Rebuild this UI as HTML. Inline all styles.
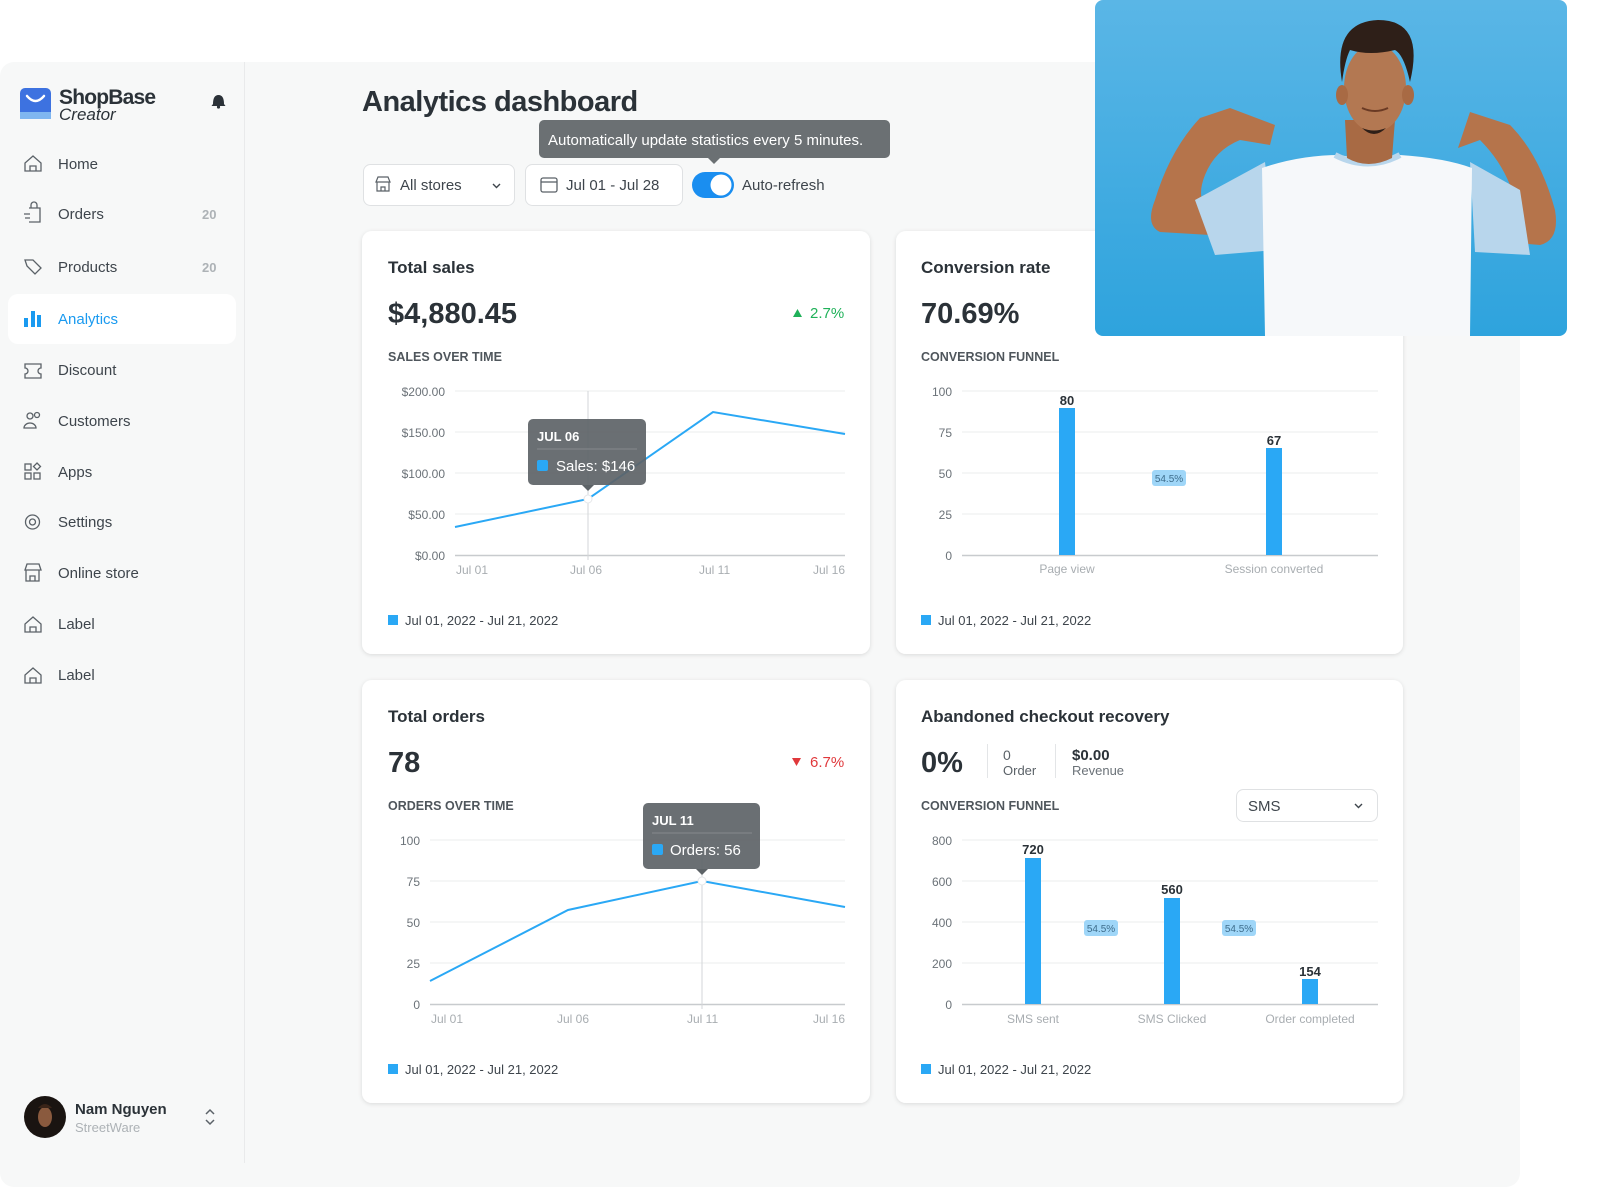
<!DOCTYPE html>
<html><head><meta charset="utf-8"><style>
html,body{margin:0;padding:0;background:#fff;width:1600px;height:1189px;overflow:hidden}
svg text{font-family:"Liberation Sans",sans-serif}
</style></head><body>
<svg width="1600" height="1189" viewBox="0 0 1600 1189" xmlns="http://www.w3.org/2000/svg">
<defs>
<filter id="sh" x="-5%" y="-5%" width="110%" height="110%"><feDropShadow dx="0" dy="1" stdDeviation="2" flood-color="#000" flood-opacity="0.12"/></filter>
<linearGradient id="bg" x1="0" y1="0" x2="0" y2="1"><stop offset="0" stop-color="#5ab6e6"/><stop offset="1" stop-color="#2ea3dd"/></linearGradient>
</defs>
<rect width="1600" height="1189" fill="#fff"/>
<rect x="0" y="62" width="1520" height="1125" rx="14" fill="#f7f8f8"/>
<line x1="244.5" y1="62" x2="244.5" y2="1163" stroke="#e9eaeb"/>
<rect x="20" y="88" width="31" height="31" rx="5" fill="#3d72e0"/>
<rect x="20" y="112" width="31" height="7" fill="#7fb6f0"/>
<path d="M27 96 Q35.5 106 44 96" stroke="#fff" stroke-width="2.5" fill="none" stroke-linecap="round"/>
<text x="59" y="104" font-size="21" font-weight="bold" fill="#2b3238" letter-spacing="-0.8">ShopBase</text>
<text x="59" y="120" font-size="17" font-style="italic" fill="#2b3238" font-family="Liberation Serif">Creator</text>
<path d="M213 104 q0-9 5.5-9 q5.5 0 5.5 9 l1.5 2 h-14 z" fill="#2b3238"/><circle cx="218.5" cy="107" r="1.6" fill="#2b3238"/>
<rect x="8" y="294" width="228" height="50" rx="10" fill="#fff"/>
<g font-size="15" fill="#3e454c">
<text x="58" y="169">Home</text><text x="58" y="219">Orders</text><text x="58" y="272">Products</text>
<text x="58" y="324" fill="#1a9af0">Analytics</text><text x="58" y="375">Discount</text><text x="58" y="426">Customers</text>
<text x="58" y="477">Apps</text><text x="58" y="527">Settings</text><text x="58" y="578">Online store</text>
<text x="58" y="629">Label</text><text x="58" y="680">Label</text>
</g>
<g font-size="13" font-weight="bold" fill="#adb2b6"><text x="202" y="219">20</text><text x="202" y="272">20</text></g>
<g stroke="#5b6268" stroke-width="1.3" fill="none">
<path d="M25 171 v-8 l8-7 l8 7 v8 z M30 171 v-5 h6 v5"/>
<path d="M29 208 h11 v14 h-11 M31 208 v-3 a3 3 0 0 1 6 0 v3 M24 214 h6 M25 218 h5"/>
<path d="M25 260 l8 0 l8 8 l-6 6 l-8-8 z"/>
<path d="M25 364 h16 v4 a3 3 0 0 0 0 6 v4 h-16 v-4 a3 3 0 0 0 0-6 z"/>
<circle cx="30" cy="416" r="3"/><path d="M24 428 a6 5 0 0 1 12 0 z"/><circle cx="37" cy="415" r="2.5"/>
<rect x="25" y="464" width="6" height="6"/><rect x="34" y="473" width="6" height="6"/><rect x="25" y="473" width="6" height="6"/><path d="M37 463 l3.5 3.5 l-3.5 3.5 l-3.5-3.5 z"/>
<circle cx="32.5" cy="522" r="3"/><circle cx="32.5" cy="522" r="7"/>
<path d="M25 570 l2-6 h12 l2 6 z M26 570 v11 h13 v-11 M30 581 v-5 h5 v5"/>
<path d="M25 632 v-8 l8-7 l8 7 v8 z M30 632 v-5 h6 v5"/>
<path d="M25 683 v-8 l8-7 l8 7 v8 z M30 683 v-5 h6 v5"/>
</g>
<g fill="#1a9af0"><rect x="24" y="318" width="4" height="9"/><rect x="31" y="311" width="4" height="16"/><rect x="37" y="315" width="4" height="12"/></g>
<circle cx="45" cy="1117" r="21" fill="#1a1411"/><ellipse cx="45" cy="1117" rx="7" ry="10" fill="#8a5a3e"/><path d="M38 1108 q7-8 14 0 z" fill="#3a2418"/>
<text x="75" y="1114" font-size="15" font-weight="bold" fill="#2b3238">Nam Nguyen</text>
<text x="75" y="1132" font-size="13" fill="#adb2b6">StreetWare</text>
<path d="M206 1114 l4-4 l4 4 M206 1120 l4 4 l4-4" stroke="#5b6268" stroke-width="1.5" fill="none"/>
<text x="362" y="111" font-size="29" font-weight="bold" fill="#2b3238" letter-spacing="-0.5">Analytics dashboard</text>
<rect x="539" y="120" width="351" height="38" rx="5" fill="#6b7073"/><path d="M708 158 l6 6 l6-6 z" fill="#6b7073"/>
<text x="548" y="145" font-size="15" fill="#fff">Automatically update statistics every 5 minutes.</text>
<rect x="363.5" y="164.5" width="151" height="41" rx="7" fill="#fff" stroke="#dfe1e3"/>
<path d="M376 182 l2-5 h10 l2 5 z M377 182 v9 h12 v-9 M381 191 v-4 h4 v4" stroke="#5b6268" stroke-width="1.2" fill="none"/>
<text x="400" y="190" font-size="15" fill="#3e454c">All stores</text>
<path d="M493 184 l3.5 3.5 l3.5-3.5" stroke="#3e454c" stroke-width="1.4" fill="none"/>
<rect x="525.5" y="164.5" width="157" height="41" rx="7" fill="#fff" stroke="#dfe1e3"/>
<rect x="541" y="178" width="16" height="14" rx="2" stroke="#5b6268" stroke-width="1.3" fill="none"/><line x1="541" y1="182" x2="557" y2="182" stroke="#5b6268" stroke-width="1.3"/>
<text x="566" y="190" font-size="15" fill="#3e454c">Jul 01 - Jul 28</text>
<rect x="692" y="172" width="42" height="26" rx="13" fill="#1a8ef0"/><circle cx="721" cy="185" r="10.5" fill="#fff"/>
<text x="742" y="190" font-size="15" fill="#3e454c">Auto-refresh</text>
<g filter="url(#sh)" fill="#fff">
<rect x="362" y="231" width="508" height="423" rx="10"/><rect x="896" y="231" width="507" height="423" rx="10"/>
<rect x="362" y="680" width="508" height="423" rx="10"/><rect x="896" y="680" width="507" height="423" rx="10"/>
</g>
<g font-size="17" font-weight="bold" fill="#2b3238">
<text x="388" y="273">Total sales</text><text x="921" y="273">Conversion rate</text>
<text x="388" y="722">Total orders</text><text x="921" y="722">Abandoned checkout recovery</text>
</g>
<g font-size="29" font-weight="bold" fill="#2b3238">
<text x="388" y="323">$4,880.45</text><text x="921" y="323">70.69%</text><text x="388" y="772">78</text><text x="921" y="772">0%</text>
</g>
<path d="M793 317 l4.5-8 l4.5 8 z" fill="#1fb159"/><text x="810" y="318" font-size="15" fill="#1fb159">2.7%</text>
<path d="M792 758 l4.5 8 l4.5-8 z" fill="#e0383b"/><text x="810" y="767" font-size="15" fill="#e0383b">6.7%</text>
<line x1="987.5" y1="744" x2="987.5" y2="778" stroke="#e3e5e7"/><line x1="1055.5" y1="744" x2="1055.5" y2="778" stroke="#e3e5e7"/>
<text x="1003" y="760" font-size="14" fill="#5b6268">0</text><text x="1003" y="775" font-size="13" fill="#5b6268">Order</text>
<text x="1072" y="760" font-size="15" font-weight="bold" fill="#2b3238">$0.00</text><text x="1072" y="775" font-size="13" fill="#6b7278">Revenue</text>
<rect x="1236.5" y="789.5" width="141" height="32" rx="7" fill="#fff" stroke="#dfe1e3"/>
<text x="1248" y="811" font-size="15" fill="#3e454c">SMS</text><path d="M1355 804 l3.5 3.5 l3.5-3.5" stroke="#3e454c" stroke-width="1.4" fill="none"/>
<g font-size="12.5" font-weight="bold" fill="#4f565c">
<text x="388" y="361">SALES OVER TIME</text><text x="921" y="361">CONVERSION FUNNEL</text>
<text x="388" y="810">ORDERS OVER TIME</text><text x="921" y="810">CONVERSION FUNNEL</text>
</g>
<g font-size="13" fill="#3e454c">
<rect x="388" y="615" width="10" height="10" fill="#2aa8f5"/><text x="405" y="625">Jul 01, 2022 - Jul 21, 2022</text>
<rect x="921" y="615" width="10" height="10" fill="#2aa8f5"/><text x="938" y="625">Jul 01, 2022 - Jul 21, 2022</text>
<rect x="388" y="1064" width="10" height="10" fill="#2aa8f5"/><text x="405" y="1074">Jul 01, 2022 - Jul 21, 2022</text>
<rect x="921" y="1064" width="10" height="10" fill="#2aa8f5"/><text x="938" y="1074">Jul 01, 2022 - Jul 21, 2022</text>
</g>
<g stroke="#ebecee"><line x1="455" y1="391" x2="845" y2="391"/><line x1="455" y1="432" x2="845" y2="432"/><line x1="455" y1="473" x2="845" y2="473"/><line x1="455" y1="514" x2="845" y2="514"/></g>
<line x1="455" y1="555.5" x2="845" y2="555.5" stroke="#c8cbce" stroke-width="1.5"/>
<line x1="588" y1="391" x2="588" y2="560" stroke="#d3d6d8"/>
<g font-size="12" fill="#6b7278" text-anchor="end"><text x="445" y="396">$200.00</text><text x="445" y="437">$150.00</text><text x="445" y="478">$100.00</text><text x="445" y="519">$50.00</text><text x="445" y="560">$0.00</text></g>
<g font-size="12" fill="#a8adb1"><text x="456" y="574">Jul 01</text><text x="570" y="574">Jul 06</text><text x="699" y="574">Jul 11</text><text x="813" y="574">Jul 16</text></g>
<polyline points="455,527 588,499 713,412 845,434" fill="none" stroke="#2aa8f5" stroke-width="2"/>
<circle cx="588" cy="499" r="4" fill="#fff" stroke="#e5e7e9"/>
<rect x="528" y="419" width="118" height="66" rx="5" fill="#5d6367" fill-opacity="0.92"/><path d="M582 485 l6 6 l6-6 z" fill="#5d6367"/>
<text x="537" y="441" font-size="13" font-weight="bold" fill="#fff">JUL 06</text><line x1="537" y1="449" x2="637" y2="449" stroke="#858a8e"/>
<rect x="537" y="460" width="11" height="11" rx="2" fill="#2aa8f5"/><text x="556" y="471" font-size="15" fill="#fff">Sales: $146</text>
<g stroke="#ebecee"><line x1="962" y1="391" x2="1378" y2="391"/><line x1="962" y1="432" x2="1378" y2="432"/><line x1="962" y1="473" x2="1378" y2="473"/><line x1="962" y1="514" x2="1378" y2="514"/></g>
<line x1="962" y1="555.5" x2="1378" y2="555.5" stroke="#c8cbce" stroke-width="1.5"/>
<g font-size="12" fill="#6b7278" text-anchor="end"><text x="952" y="396">100</text><text x="952" y="437">75</text><text x="952" y="478">50</text><text x="952" y="519">25</text><text x="952" y="560">0</text></g>
<rect x="1059" y="408" width="16" height="147" fill="#2aa8f5"/><rect x="1266" y="448" width="16" height="107" fill="#2aa8f5"/>
<g font-size="13" font-weight="bold" fill="#2b3238" text-anchor="middle"><text x="1067" y="405">80</text><text x="1274" y="445">67</text></g>
<rect x="1152" y="470" width="34" height="16" rx="3" fill="#9fd6f8"/><text x="1169" y="482" font-size="10" fill="#3e6d8c" text-anchor="middle">54.5%</text>
<g font-size="12" fill="#a8adb1" text-anchor="middle"><text x="1067" y="573">Page view</text><text x="1274" y="573">Session converted</text></g>
<g stroke="#ebecee"><line x1="430" y1="840" x2="845" y2="840"/><line x1="430" y1="881" x2="845" y2="881"/><line x1="430" y1="922" x2="845" y2="922"/><line x1="430" y1="963" x2="845" y2="963"/></g>
<line x1="430" y1="1004.5" x2="845" y2="1004.5" stroke="#c8cbce" stroke-width="1.5"/>
<line x1="702" y1="840" x2="702" y2="1009" stroke="#d3d6d8"/>
<g font-size="12" fill="#6b7278" text-anchor="end"><text x="420" y="845">100</text><text x="420" y="886">75</text><text x="420" y="927">50</text><text x="420" y="968">25</text><text x="420" y="1009">0</text></g>
<g font-size="12" fill="#a8adb1"><text x="431" y="1023">Jul 01</text><text x="557" y="1023">Jul 06</text><text x="687" y="1023">Jul 11</text><text x="813" y="1023">Jul 16</text></g>
<polyline points="430,981 568,910 702,881 845,907" fill="none" stroke="#2aa8f5" stroke-width="2"/>
<circle cx="702" cy="881" r="4" fill="#fff" stroke="#e5e7e9"/>
<rect x="643" y="803" width="117" height="66" rx="5" fill="#5d6367" fill-opacity="0.92"/><path d="M696 869 l6 6 l6-6 z" fill="#5d6367"/>
<text x="652" y="825" font-size="13" font-weight="bold" fill="#fff">JUL 11</text><line x1="652" y1="833" x2="752" y2="833" stroke="#858a8e"/>
<rect x="652" y="844" width="11" height="11" rx="2" fill="#2aa8f5"/><text x="670" y="855" font-size="15" fill="#fff">Orders: 56</text>
<g stroke="#ebecee"><line x1="962" y1="840" x2="1378" y2="840"/><line x1="962" y1="881" x2="1378" y2="881"/><line x1="962" y1="922" x2="1378" y2="922"/><line x1="962" y1="963" x2="1378" y2="963"/></g>
<line x1="962" y1="1004.5" x2="1378" y2="1004.5" stroke="#c8cbce" stroke-width="1.5"/>
<g font-size="12" fill="#6b7278" text-anchor="end"><text x="952" y="845">800</text><text x="952" y="886">600</text><text x="952" y="927">400</text><text x="952" y="968">200</text><text x="952" y="1009">0</text></g>
<rect x="1025" y="858" width="16" height="146" fill="#2aa8f5"/><rect x="1164" y="898" width="16" height="106" fill="#2aa8f5"/><rect x="1302" y="979" width="16" height="25" fill="#2aa8f5"/>
<g font-size="13" font-weight="bold" fill="#2b3238" text-anchor="middle"><text x="1033" y="854">720</text><text x="1172" y="894">560</text><text x="1310" y="976">154</text></g>
<rect x="1084" y="920" width="34" height="16" rx="3" fill="#9fd6f8"/><text x="1101" y="932" font-size="10" fill="#3e6d8c" text-anchor="middle">54.5%</text>
<rect x="1222" y="920" width="34" height="16" rx="3" fill="#9fd6f8"/><text x="1239" y="932" font-size="10" fill="#3e6d8c" text-anchor="middle">54.5%</text>
<g font-size="12" fill="#a8adb1" text-anchor="middle"><text x="1033" y="1023">SMS sent</text><text x="1172" y="1023">SMS Clicked</text><text x="1310" y="1023">Order completed</text></g>
<!-- photo -->
<clipPath id="pc"><rect x="1095" y="0" width="472" height="336" rx="8"/></clipPath>
<g clip-path="url(#pc)">
<rect x="1095" y="0" width="472" height="336" fill="url(#bg)"/>
<!-- arms -->
<path d="M1210 235 L1160 232 Q1145 225 1155 200 Q1170 150 1200 118 L1230 108 L1275 125 L1270 145 L1240 140 Q1215 150 1205 175 Q1195 200 1210 210 z" fill="#b5744b"/>
<path d="M1480 240 L1540 245 Q1560 240 1555 210 Q1540 155 1510 125 L1470 112 L1458 148 L1480 140 Q1500 160 1510 185 Q1515 205 1495 215 z" fill="#b5744b"/>
<!-- sleeves -->
<path d="M1195 200 L1265 162 L1275 250 L1215 255 z" fill="#b8d6ec"/>
<path d="M1470 162 L1520 190 L1530 255 L1475 252 z" fill="#b8d6ec"/>
<!-- shirt -->
<path d="M1262 168 Q1300 155 1340 155 Q1370 162 1400 155 Q1445 158 1472 168 L1470 336 L1265 336 z" fill="#f6f8fa"/>
<path d="M1335 155 Q1368 172 1400 155" stroke="#b8d6ec" stroke-width="6" fill="none"/>
<!-- neck & head -->
<path d="M1345 120 L1347 158 Q1368 170 1392 158 L1395 120 z" fill="#a86a44"/>
<ellipse cx="1375" cy="88" rx="31" ry="44" fill="#b37852"/>
<ellipse cx="1342" cy="95" rx="6" ry="10" fill="#a86a44"/><ellipse cx="1408" cy="95" rx="6" ry="10" fill="#a86a44"/>
<path d="M1342 82 Q1332 22 1378 20 Q1425 20 1410 82 Q1404 55 1395 50 Q1370 56 1350 50 Q1345 60 1342 82 z" fill="#2e1f18"/>
<path d="M1362 128 q12 12 24 0 q-12 5 -24 0" fill="#2e1f18"/>
<path d="M1362 108 q13 6 26 0" stroke="#6a3a24" stroke-width="2" fill="none"/>
</g>
</svg>
</body></html>
